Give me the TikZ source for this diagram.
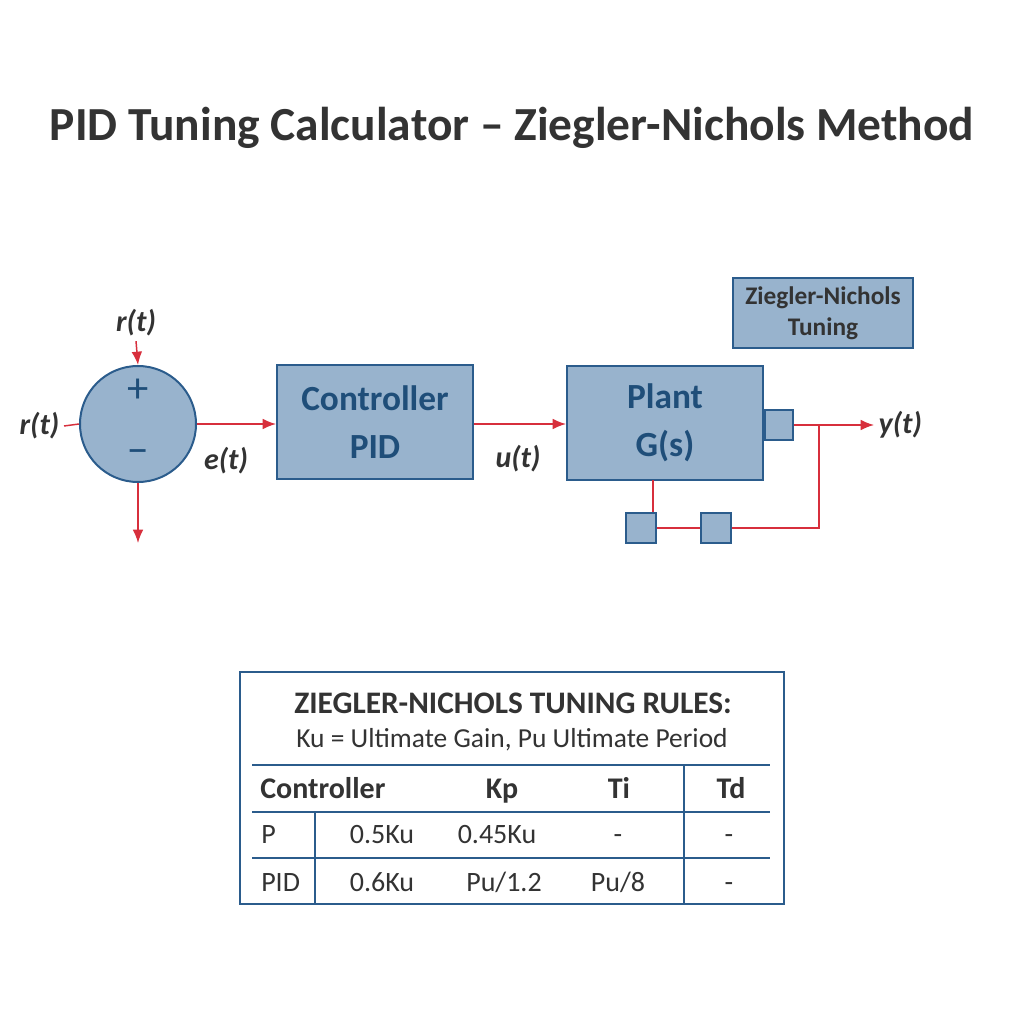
\documentclass[tikz,border=0pt]{standalone}
\usepackage{fontspec}
\setmainfont{Carlito}
\usetikzlibrary{arrows.meta}
\definecolor{boxfill}{HTML}{98B3CD}
\definecolor{boxdraw}{HTML}{2B5C8C}
\definecolor{boxtext}{HTML}{1F4E79}
\definecolor{sigred}{HTML}{D72F3C}
\definecolor{txt}{HTML}{333333}
\tikzset{
  blk/.style={draw=boxdraw, line width=1.5pt, fill=boxfill, inner sep=0pt},
  blktext/.style={text=boxtext, font=\fontsize{26.5}{32}\selectfont\bfseries, align=center},
  sig/.style={draw=sigred, line width=1.1pt},
  sigarrow/.style={sig, -{Latex[length=10pt,width=8pt]}},
  lab/.style={text=txt, font=\fontsize{22.5}{27}\selectfont\bfseries\itshape},
  cell/.style={text=txt, font=\fontsize{21}{25}\selectfont, anchor=base, inner sep=0pt},
  hcell/.style={text=txt, font=\fontsize{22.5}{27}\selectfont\bfseries, anchor=base, inner sep=0pt},
  rule/.style={draw=boxdraw, line width=1pt},
}
\begin{document}
\begin{tikzpicture}[x=0.75pt, y=-0.75pt]
\useasboundingbox (0,0) rectangle (1024,1024);
\fill[white] (0,0) rectangle (1024,1024);
% title
\node[text=txt, font=\fontsize{35.6}{43}\selectfont\bfseries] (title) at (512,128) {PID Tuning Calculator – Ziegler-Nichols Method};
% summing junction
\node[blk, circle, minimum size=87pt] (sum) at (138,424) {};
\node[text=boxtext, font=\fontsize{32}{36}\selectfont] (plus) at (138,391) {+};
\node[text=boxtext, font=\fontsize{32}{36}\selectfont] (minus) at (138,457) {−};
\node[lab] (rtop) at (136,323) {r(t)};
\node[lab, anchor=east] (rleft) at (64,426) {r(t)};
\coordinate (bottomend) at (138,543);
\draw[sigarrow] (rtop.south) -- (sum.north);
\draw[sig] (rleft.east) -- (sum.west);
\draw[sigarrow] (sum.south) -- (bottomend);
% controller
\node[blk, minimum width=147pt, minimum height=86pt] (ctrl) at (375,422) {};
\node[blktext] (ctrltext) at (375,422) {Controller\\[4pt]PID};
\draw[sigarrow] (sum.east) -- (ctrl.west |- sum.east);
\node[lab] (et) at (226,461) {e(t)};
% plant
\node[blk, minimum width=147pt, minimum height=86pt] (plant) at (665,423) {};
\node[blktext] (planttext) at (665,423) {Plant\\[4pt]G(s)};
\draw[sigarrow] (ctrl.east |- 0,424) -- (plant.west |- 0,424);
\node[lab] (ut) at (518,459) {u(t)};
% side square
\node[blk, minimum width=21pt, minimum height=22pt, anchor=west] (sq0) at (plant.east |- 0,425) {};
\node[lab, anchor=west] (yt) at (874,425) {y(t)};
\draw[sigarrow] (sq0.east) -- (yt.west);
\coordinate (branch) at (819,425);
% lower squares
\node[blk, minimum width=22pt, minimum height=22pt] (sq1) at (641,528) {};
\node[blk, minimum width=22pt, minimum height=22pt] (sq2) at (716,528) {};
\draw[sig] (653,480) -- (sq1.north -| 653,0);
\draw[sig] (sq1.east) -- (sq2.west);
\draw[sig] (sq2.east) -- (branch |- sq2.east) -- (branch);
% ZN box
\node[blk, minimum width=135pt, minimum height=52pt] (zn) at (823,313) {};
\node[text=txt, font=\fontsize{19}{23}\selectfont\bfseries, align=center] (zntext) at (823,313) {Ziegler-Nichols\\Tuning};
% table
\node[draw=boxdraw, line width=1.8pt, fill=white, minimum width=408pt, minimum height=174pt] (tab) at (512,788) {};
\node[text=txt, font=\fontsize{23.5}{28}\selectfont\bfseries, anchor=base, inner sep=0pt] (tabtitle) at (513,713) {ZIEGLER-NICHOLS TUNING RULES:};
\node[text=txt, font=\fontsize{20.6}{24}\selectfont, anchor=base, inner sep=0pt] (tabsub) at (512,747) {Ku = Ultimate Gain, Pu Ultimate Period};
\coordinate (l1a) at (252,765); \coordinate (l1b) at (770,765);
\coordinate (l2a) at (252,812); \coordinate (l2b) at (770,812);
\coordinate (l3a) at (252,858); \coordinate (l3b) at (770,858);
\coordinate (v1a) at (684,765); \coordinate (v1b) at (684,904);
\coordinate (v2a) at (315,812); \coordinate (v2b) at (315,904);
\draw[rule] (l1a) -- (l1b);
\draw[rule] (l2a) -- (l2b);
\draw[rule] (l3a) -- (l3b);
\draw[rule] (v1a) -- (v1b);
\draw[rule] (v2a) -- (v2b);
\node[hcell, anchor=base west] (hc) at (260,798) {Controller};
\node[hcell] (hkp) at (502,798) {Kp};
\node[hcell] (hti) at (619,798) {Ti};
\node[hcell] (htd) at (731,798) {Td};
\node[cell, anchor=base west] (p0) at (261,843) {P};
\node[cell] (p1) at (382,843) {0.5Ku};
\node[cell] (p2) at (497,843) {0.45Ku};
\node[cell] (p3) at (618,843) {-};
\node[cell] (p4) at (729,843) {-};
\node[cell, anchor=base west] (q0) at (261,891) {PID};
\node[cell] (q1) at (382,891) {0.6Ku};
\node[cell] (q2) at (504,891) {Pu/1.2};
\node[cell] (q3) at (618,891) {Pu/8};
\node[cell] (q4) at (729,891) {-};
\end{tikzpicture}
\end{document}
